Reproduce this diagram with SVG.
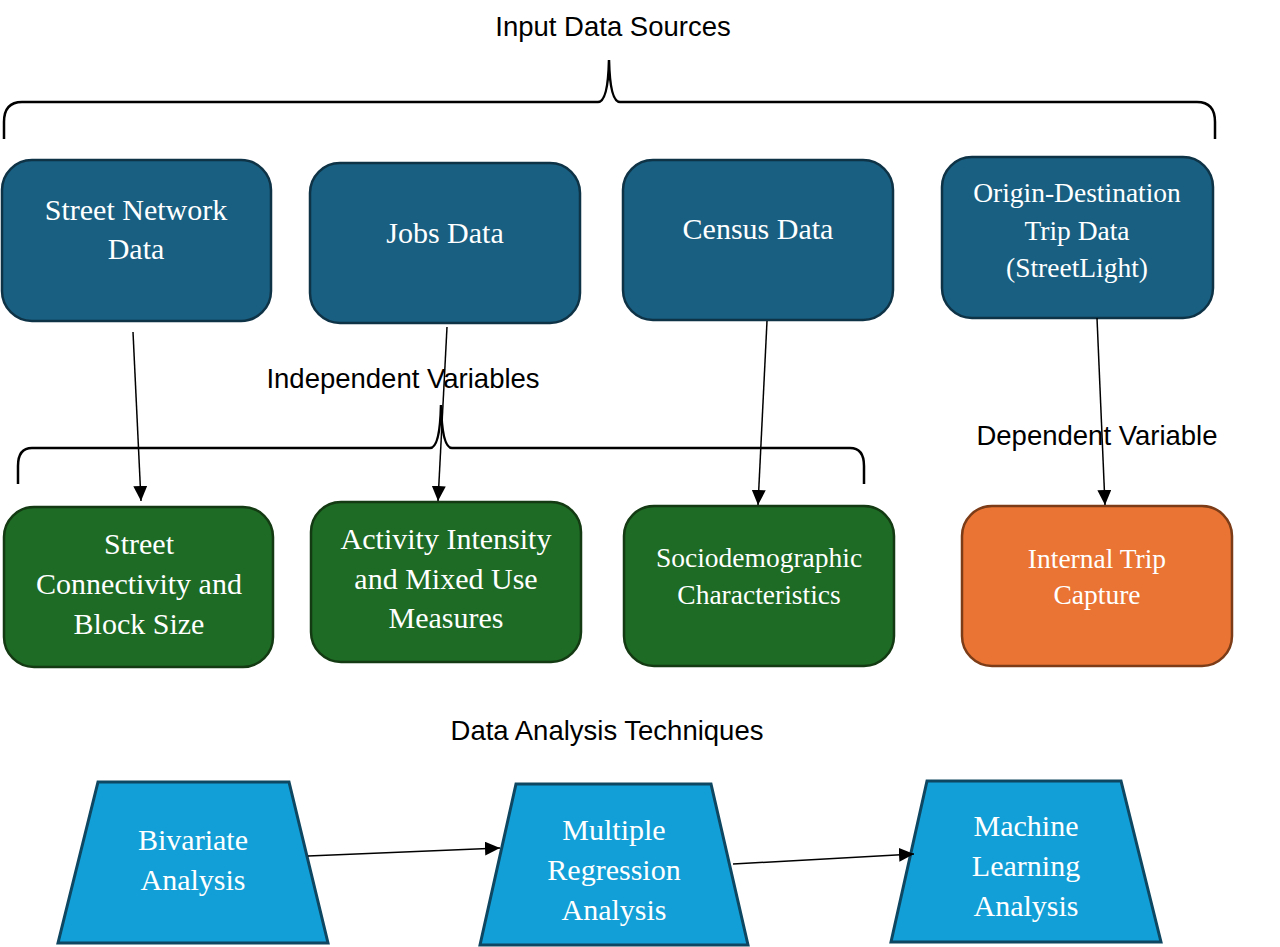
<svg xmlns="http://www.w3.org/2000/svg" width="1280" height="947" viewBox="0 0 1280 947">
<defs>
<style>
.blue{fill:#185f82;stroke:#0f3346;stroke-width:2.5}
.green{fill:#1d6b25;stroke:#133a12;stroke-width:2.5}
.orange{fill:#ea7433;stroke:#7b3c17;stroke-width:2.5}
.trap{fill:#129fd7;stroke:#0e4761;stroke-width:3}
.nt{font-family:"Liberation Serif","Times New Roman",serif;font-size:30px;fill:#ffffff;text-anchor:middle}
.sm{font-size:27.5px}
.lbl{font-family:"Liberation Sans",Arial,sans-serif;font-size:27.5px;fill:#000000;text-anchor:middle}
.brace{fill:none;stroke:#000000;stroke-width:2.5}
.conn{fill:none;stroke:#000000;stroke-width:1.5}
</style>
<marker id="ah" markerWidth="15" markerHeight="14" refX="15" refY="7" orient="auto" markerUnits="userSpaceOnUse">
<path d="M0,0 L15,7 L0,14 Z" fill="#000000"/>
</marker>
</defs>
<rect width="1280" height="947" fill="#ffffff"/>

<g id="labels">
<text class="lbl" x="613" y="36">Input Data Sources</text>
<text class="lbl" x="403" y="388">Independent Variables</text>
<text class="lbl" x="1097" y="445">Dependent Variable</text>
<text class="lbl" x="607" y="740">Data Analysis Techniques</text>
</g>

<g id="braces">
<path class="brace" d="M4,139 L4,122 Q4,102 22,102 L598,102 Q608,102 609,60 Q610,102 620,102 L1197,102 Q1215,102 1215,122 L1215,139"/>
<path class="brace" d="M18,484 L18,466 Q18,448 32,448 L430,448 Q440,448 441,405 Q442,448 452,448 L850,448 Q864,448 864,466 L864,484"/>
</g>

<g id="node-street-network">
<rect class="blue" x="2" y="160" width="269" height="161" rx="30"/>
<text class="nt" x="136" y="220">Street Network</text>
<text class="nt" x="136" y="259">Data</text>
</g>
<g id="node-jobs">
<rect class="blue" x="310" y="163" width="270" height="160" rx="30"/>
<text class="nt" x="445" y="243">Jobs Data</text>
</g>
<g id="node-census">
<rect class="blue" x="623" y="160" width="270" height="160" rx="30"/>
<text class="nt" x="758" y="239">Census Data</text>
</g>
<g id="node-od">
<rect class="blue" x="942" y="157" width="271" height="161" rx="30"/>
<text class="nt sm" x="1077" y="202">Origin-Destination</text>
<text class="nt sm" x="1077" y="240">Trip Data</text>
<text class="nt sm" x="1077" y="277">(StreetLight)</text>
</g>

<g id="node-street-connectivity">
<rect class="green" x="4" y="507" width="269" height="160" rx="30"/>
<text class="nt" x="139" y="554">Street</text>
<text class="nt" x="139" y="594">Connectivity and</text>
<text class="nt" x="139" y="634">Block Size</text>
</g>
<g id="node-activity">
<rect class="green" x="311" y="502" width="270" height="160" rx="30"/>
<text class="nt" x="446" y="549">Activity Intensity</text>
<text class="nt" x="446" y="589">and Mixed Use</text>
<text class="nt" x="446" y="628">Measures</text>
</g>
<g id="node-socio">
<rect class="green" x="624" y="506" width="270" height="160" rx="30"/>
<text class="nt sm" x="759" y="567">Sociodemographic</text>
<text class="nt sm" x="759" y="604">Characteristics</text>
</g>
<g id="node-internal">
<rect class="orange" x="962" y="506" width="270" height="160" rx="30"/>
<text class="nt sm" x="1097" y="568">Internal Trip</text>
<text class="nt sm" x="1097" y="604">Capture</text>
</g>

<g id="node-bivariate">
<polygon class="trap" points="98,782 289,782 328,943 58,943"/>
<text class="nt" x="193" y="850">Bivariate</text>
<text class="nt" x="193" y="890">Analysis</text>
</g>
<g id="node-multiple">
<polygon class="trap" points="516,784 711,784 748,945 480,945"/>
<text class="nt" x="614" y="840">Multiple</text>
<text class="nt" x="614" y="880">Regression</text>
<text class="nt" x="614" y="920">Analysis</text>
</g>
<g id="node-ml">
<polygon class="trap" points="927,781 1121,781 1161,942 891,942"/>
<text class="nt" x="1026" y="836">Machine</text>
<text class="nt" x="1026" y="876">Learning</text>
<text class="nt" x="1026" y="916">Analysis</text>
</g>

<g id="connectors">
<line class="conn" x1="133" y1="332" x2="141" y2="501" marker-end="url(#ah)"/>
<line class="conn" x1="447" y1="327" x2="438" y2="501" marker-end="url(#ah)"/>
<line class="conn" x1="767" y1="321" x2="758" y2="505" marker-end="url(#ah)"/>
<line class="conn" x1="1097" y1="318" x2="1105" y2="505" marker-end="url(#ah)"/>
<line class="conn" x1="308" y1="856" x2="500" y2="848" marker-end="url(#ah)"/>
<line class="conn" x1="733" y1="864" x2="914" y2="854" marker-end="url(#ah)"/>
</g>
</svg>
